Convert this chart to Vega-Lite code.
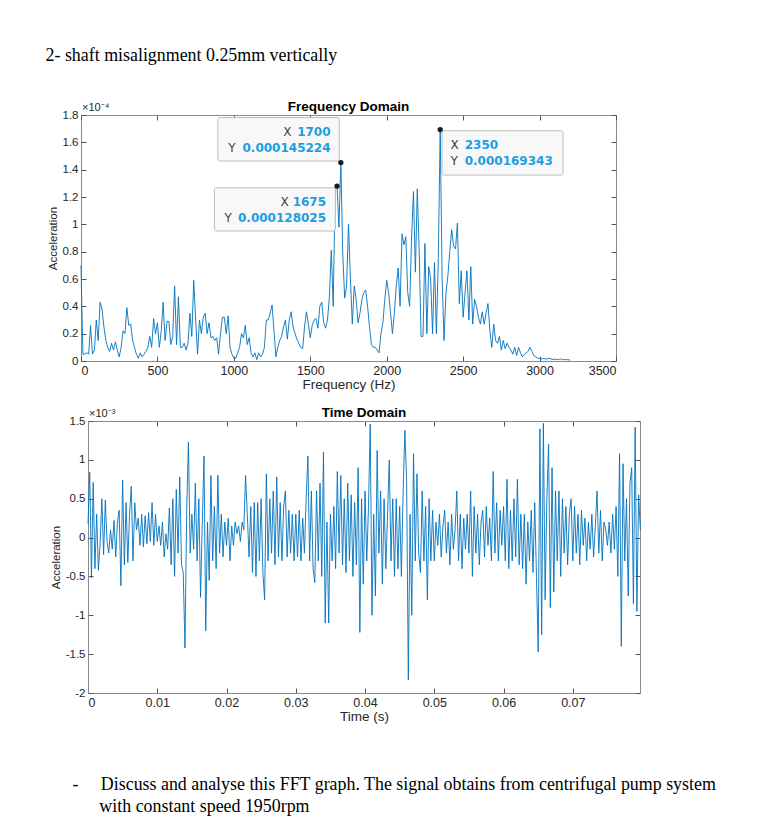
{
"$schema": "https://vega.github.io/schema/vega-lite/v6.json",
"background": "white",
"padding": {"left": 45, "top": 47, "right": 0, "bottom": 0},
"title": {"text": "2- shaft misalignment 0.25mm vertically", "anchor": "start", "font": "Liberation Serif", "fontSize": 17.9, "fontWeight": "normal", "color": "#000000", "offset": 34, "dx": -1, "frame": "bounds"},
"datasets": {
"freq": [
{"f":0,"a":0.7},{"f":12.5,"a":0.05},{"f":25,"a":0.05},{"f":37.5,"a":0.06},{"f":50,"a":0.05},{"f":62.5,"a":0.26},{"f":75,"a":0.05},{"f":87.5,"a":0.08},{"f":100,"a":0.3},{"f":112.5,"a":0.15},
{"f":125,"a":0.43},{"f":137.5,"a":0.38},{"f":150,"a":0.25},{"f":162.5,"a":0.15},{"f":175,"a":0.1},{"f":187.5,"a":0.07},{"f":200,"a":0.13},{"f":212.5,"a":0.08},{"f":225,"a":0.14},{"f":237.5,"a":0.08},
{"f":250,"a":0.03},{"f":262.5,"a":0.1},{"f":275,"a":0.22},{"f":287.5,"a":0.2},{"f":300,"a":0.39},{"f":312.5,"a":0.26},{"f":325,"a":0.27},{"f":337.5,"a":0.15},{"f":350,"a":0.1},{"f":362.5,"a":0.05},
{"f":375,"a":0.02},{"f":387.5,"a":0.06},{"f":400,"a":0.03},{"f":412.5,"a":0.05},{"f":425,"a":0.07},{"f":437.5,"a":0.1},{"f":450,"a":0.18},{"f":462.5,"a":0.1},{"f":475,"a":0.31},{"f":487.5,"a":0.2},
{"f":500,"a":0.28},{"f":512.5,"a":0.1},{"f":525,"a":0.22},{"f":537.5,"a":0.43},{"f":550,"a":0.15},{"f":562.5,"a":0.29},{"f":575,"a":0.29},{"f":587.5,"a":0.12},{"f":600,"a":0.18},{"f":612.5,"a":0.55},
{"f":625,"a":0.12},{"f":637.5,"a":0.47},{"f":650,"a":0.1},{"f":662.5,"a":0.1},{"f":675,"a":0.13},{"f":687.5,"a":0.08},{"f":700,"a":0.13},{"f":712.5,"a":0.35},{"f":725,"a":0.18},{"f":737.5,"a":0.59},
{"f":750,"a":0.3},{"f":762.5,"a":0.05},{"f":775,"a":0.3},{"f":787.5,"a":0.2},{"f":800,"a":0.32},{"f":812.5,"a":0.35},{"f":825,"a":0.2},{"f":837.5,"a":0.28},{"f":850,"a":0.17},{"f":862.5,"a":0.18},
{"f":875,"a":0.15},{"f":887.5,"a":0.17},{"f":900,"a":0.05},{"f":912.5,"a":0.2},{"f":925,"a":0.32},{"f":937.5,"a":0.32},{"f":950,"a":0.2},{"f":962.5,"a":0.33},{"f":975,"a":0.1},{"f":987.5,"a":0.05},
{"f":1000,"a":0.02},{"f":1012.5,"a":0.02},{"f":1025,"a":0.06},{"f":1037.5,"a":0.1},{"f":1050,"a":0.2},{"f":1062.5,"a":0.17},{"f":1075,"a":0.26},{"f":1087.5,"a":0.12},{"f":1100,"a":0.17},{"f":1112.5,"a":0.06},
{"f":1125,"a":0.03},{"f":1137.5,"a":0.06},{"f":1150,"a":0.01},{"f":1162.5,"a":0.06},{"f":1175,"a":0.03},{"f":1187.5,"a":0.05},{"f":1200,"a":0.1},{"f":1212.5,"a":0.3},{"f":1225,"a":0.3},{"f":1237.5,"a":0.35},
{"f":1250,"a":0.41},{"f":1262.5,"a":0.22},{"f":1275,"a":0.03},{"f":1287.5,"a":0.1},{"f":1300,"a":0.15},{"f":1312.5,"a":0.18},{"f":1325,"a":0.25},{"f":1337.5,"a":0.3},{"f":1350,"a":0.16},{"f":1362.5,"a":0.3},
{"f":1375,"a":0.36},{"f":1387.5,"a":0.25},{"f":1400,"a":0.2},{"f":1412.5,"a":0.16},{"f":1425,"a":0.13},{"f":1437.5,"a":0.1},{"f":1450,"a":0.09},{"f":1462.5,"a":0.25},{"f":1475,"a":0.36},{"f":1487.5,"a":0.27},
{"f":1500,"a":0.17},{"f":1512.5,"a":0.26},{"f":1525,"a":0.3},{"f":1537.5,"a":0.31},{"f":1550,"a":0.24},{"f":1562.5,"a":0.4},{"f":1575,"a":0.43},{"f":1587.5,"a":0.28},{"f":1600,"a":0.24},{"f":1612.5,"a":0.3},
{"f":1625,"a":0.47},{"f":1637.5,"a":0.81},{"f":1650,"a":0.4},{"f":1662.5,"a":1.25},{"f":1675,"a":1.28025},{"f":1687.5,"a":0.98},{"f":1700,"a":1.45224},{"f":1712.5,"a":0.78},{"f":1725,"a":0.46},{"f":1737.5,"a":0.55},
{"f":1750,"a":1.0},{"f":1762.5,"a":0.6},{"f":1775,"a":0.27},{"f":1787.5,"a":0.55},{"f":1800,"a":0.45},{"f":1812.5,"a":0.28},{"f":1825,"a":0.35},{"f":1837.5,"a":0.45},{"f":1850,"a":0.5},{"f":1862.5,"a":0.52},
{"f":1875,"a":0.4},{"f":1887.5,"a":0.25},{"f":1900,"a":0.12},{"f":1912.5,"a":0.1},{"f":1925,"a":0.1},{"f":1937.5,"a":0.08},{"f":1950,"a":0.06},{"f":1962.5,"a":0.2},{"f":1975,"a":0.28},{"f":1987.5,"a":0.45},
{"f":2000,"a":0.59},{"f":2012.5,"a":0.5},{"f":2025,"a":0.35},{"f":2037.5,"a":0.2},{"f":2050,"a":0.35},{"f":2062.5,"a":0.55},{"f":2075,"a":0.68},{"f":2087.5,"a":0.4},{"f":2100,"a":0.93},{"f":2112.5,"a":0.85},
{"f":2125,"a":0.91},{"f":2137.5,"a":0.5},{"f":2150,"a":0.4},{"f":2162.5,"a":0.9},{"f":2175,"a":1.24},{"f":2187.5,"a":0.65},{"f":2200,"a":1.26},{"f":2212.5,"a":0.8},{"f":2225,"a":0.18},{"f":2237.5,"a":0.18},
{"f":2250,"a":0.86},{"f":2262.5,"a":0.2},{"f":2275,"a":0.69},{"f":2287.5,"a":0.6},{"f":2300,"a":0.2},{"f":2312.5,"a":0.72},{"f":2325,"a":0.2},{"f":2337.5,"a":0.75},{"f":2350,"a":1.69343},{"f":2362.5,"a":0.6},
{"f":2375,"a":0.15},{"f":2387.5,"a":0.5},{"f":2400,"a":0.62},{"f":2412.5,"a":0.8},{"f":2425,"a":0.96},{"f":2437.5,"a":0.84},{"f":2450,"a":0.82},{"f":2462.5,"a":1.01},{"f":2475,"a":0.42},{"f":2487.5,"a":0.66},
{"f":2500,"a":0.32},{"f":2512.5,"a":0.5},{"f":2525,"a":0.66},{"f":2537.5,"a":0.3},{"f":2550,"a":0.69},{"f":2562.5,"a":0.27},{"f":2575,"a":0.45},{"f":2587.5,"a":0.4},{"f":2600,"a":0.32},{"f":2612.5,"a":0.27},
{"f":2625,"a":0.36},{"f":2637.5,"a":0.27},{"f":2650,"a":0.35},{"f":2662.5,"a":0.42},{"f":2675,"a":0.22},{"f":2687.5,"a":0.1},{"f":2700,"a":0.27},{"f":2712.5,"a":0.15},{"f":2725,"a":0.13},{"f":2737.5,"a":0.18},
{"f":2750,"a":0.08},{"f":2762.5,"a":0.15},{"f":2775,"a":0.09},{"f":2787.5,"a":0.13},{"f":2800,"a":0.1},{"f":2812.5,"a":0.08},{"f":2825,"a":0.05},{"f":2837.5,"a":0.1},{"f":2850,"a":0.04},{"f":2862.5,"a":0.1},
{"f":2875,"a":0.06},{"f":2887.5,"a":0.03},{"f":2900,"a":0.05},{"f":2912.5,"a":0.06},{"f":2925,"a":0.07},{"f":2937.5,"a":0.1},{"f":2950,"a":0.07},{"f":2962.5,"a":0.04},{"f":2975,"a":0.03},{"f":2987.5,"a":0.02},
{"f":3000,"a":0.02},{"f":3012.5,"a":0.015},{"f":3025,"a":0.02},{"f":3037.5,"a":0.015},{"f":3050,"a":0.015},{"f":3062.5,"a":0.02},{"f":3075,"a":0.015},{"f":3087.5,"a":0.01},{"f":3100,"a":0.015},{"f":3112.5,"a":0.01},
{"f":3125,"a":0.01},{"f":3137.5,"a":0.015},{"f":3150,"a":0.01},{"f":3162.5,"a":0.01},{"f":3175,"a":0.01},{"f":3187.5,"a":0.01},{"f":3200,"a":0.005}
],
"tips": [
{"tip":"a","f":1700,"a":1.45224,"xs":"1700","ys":"0.000145224"},
{"tip":"b","f":1675,"a":1.28025,"xs":"1675","ys":"0.000128025"},
{"tip":"c","f":2350,"a":1.69343,"xs":"2350","ys":"0.000169343"}
],
"time": [
{"t":0,"v":0.18},{"t":0.00025,"v":0.84},{"t":0.0005,"v":-0.52},{"t":0.00075,"v":0.71},{"t":0.001,"v":-0.4},{"t":0.00125,"v":0.3},{"t":0.0015,"v":-0.42},{"t":0.00175,"v":-0.08},{"t":0.002,"v":0.5},{"t":0.00225,"v":-0.22},
{"t":0.0025,"v":0.48},{"t":0.00275,"v":-0.05},{"t":0.003,"v":-0.2},{"t":0.00325,"v":0.1},{"t":0.0035,"v":-0.15},{"t":0.00375,"v":0.22},{"t":0.004,"v":-0.25},{"t":0.00425,"v":0.2},{"t":0.0045,"v":0.35},{"t":0.00475,"v":-0.62},
{"t":0.005,"v":0.74},{"t":0.00525,"v":-0.35},{"t":0.0055,"v":0.45},{"t":0.00575,"v":-0.32},{"t":0.006,"v":0.3},{"t":0.00625,"v":0.66},{"t":0.0065,"v":-0.3},{"t":0.00675,"v":0.45},{"t":0.007,"v":0.1},{"t":0.00725,"v":0.25},
{"t":0.0075,"v":-0.1},{"t":0.00775,"v":0.3},{"t":0.008,"v":-0.12},{"t":0.00825,"v":0.28},{"t":0.0085,"v":-0.08},{"t":0.00875,"v":0.32},{"t":0.009,"v":-0.05},{"t":0.00925,"v":0.45},{"t":0.0095,"v":-0.1},{"t":0.00975,"v":0.3},
{"t":0.01,"v":-0.05},{"t":0.01025,"v":0.15},{"t":0.0105,"v":-0.1},{"t":0.01075,"v":0.2},{"t":0.011,"v":-0.25},{"t":0.01125,"v":0.05},{"t":0.0115,"v":-0.15},{"t":0.01175,"v":0.38},{"t":0.012,"v":-0.35},{"t":0.01225,"v":0.5},
{"t":0.0125,"v":-0.5},{"t":0.01275,"v":0.62},{"t":0.013,"v":-0.2},{"t":0.01325,"v":0.78},{"t":0.0135,"v":-0.35},{"t":0.01375,"v":-0.45},{"t":0.014,"v":-1.42},{"t":0.01425,"v":0.35},{"t":0.0145,"v":1.23},{"t":0.01475,"v":-0.2},
{"t":0.015,"v":0.3},{"t":0.01525,"v":-0.15},{"t":0.0155,"v":0.7},{"t":0.01575,"v":-0.3},{"t":0.016,"v":0.5},{"t":0.01625,"v":-0.77},{"t":0.0165,"v":0.2},{"t":0.01675,"v":1.05},{"t":0.017,"v":-1.2},{"t":0.01725,"v":0.2},
{"t":0.0175,"v":-0.55},{"t":0.01775,"v":0.8},{"t":0.018,"v":-0.3},{"t":0.01825,"v":0.4},{"t":0.0185,"v":-0.4},{"t":0.01875,"v":0.8},{"t":0.019,"v":-0.2},{"t":0.01925,"v":0.3},{"t":0.0195,"v":-0.25},{"t":0.01975,"v":0.2},
{"t":0.02,"v":-0.1},{"t":0.02025,"v":0.25},{"t":0.0205,"v":-0.3},{"t":0.02075,"v":0.15},{"t":0.021,"v":-0.1},{"t":0.02125,"v":0.2},{"t":0.0215,"v":0.05},{"t":0.02175,"v":0.15},{"t":0.022,"v":-0.05},{"t":0.02225,"v":0.2},
{"t":0.0225,"v":0.1},{"t":0.02275,"v":0.8},{"t":0.023,"v":0.3},{"t":0.02325,"v":-0.25},{"t":0.0235,"v":0.4},{"t":0.02375,"v":-0.45},{"t":0.024,"v":0.45},{"t":0.02425,"v":-0.5},{"t":0.0245,"v":0.45},{"t":0.02475,"v":-0.3},
{"t":0.025,"v":0.5},{"t":0.02525,"v":-0.45},{"t":0.0255,"v":-0.8},{"t":0.02575,"v":0.82},{"t":0.026,"v":-0.3},{"t":0.02625,"v":0.5},{"t":0.0265,"v":-0.2},{"t":0.02675,"v":0.6},{"t":0.027,"v":-0.35},{"t":0.02725,"v":0.78},
{"t":0.0275,"v":-0.25},{"t":0.02775,"v":0.45},{"t":0.028,"v":-0.3},{"t":0.02825,"v":0.4},{"t":0.0285,"v":0.6},{"t":0.02875,"v":-0.25},{"t":0.029,"v":0.35},{"t":0.02925,"v":-0.2},{"t":0.0295,"v":0.3},{"t":0.02975,"v":-0.3},
{"t":0.03,"v":0.3},{"t":0.03025,"v":-0.25},{"t":0.0305,"v":0.35},{"t":0.03075,"v":-0.3},{"t":0.031,"v":0.25},{"t":0.03125,"v":-0.2},{"t":0.0315,"v":0.5},{"t":0.03175,"v":1.05},{"t":0.032,"v":-0.3},{"t":0.03225,"v":0.6},
{"t":0.0325,"v":-0.4},{"t":0.03275,"v":-0.58},{"t":0.033,"v":0.6},{"t":0.03325,"v":-0.3},{"t":0.0335,"v":0.7},{"t":0.03375,"v":-0.5},{"t":0.034,"v":1.1},{"t":0.03425,"v":-1.1},{"t":0.0345,"v":0.2},{"t":0.03475,"v":-1.1},
{"t":0.035,"v":0.3},{"t":0.03525,"v":-0.3},{"t":0.0355,"v":0.4},{"t":0.03575,"v":-0.4},{"t":0.036,"v":0.85},{"t":0.03625,"v":-0.2},{"t":0.0365,"v":0.8},{"t":0.03675,"v":-0.35},{"t":0.037,"v":0.5},{"t":0.03725,"v":-0.45},
{"t":0.0375,"v":0.7},{"t":0.03775,"v":-0.3},{"t":0.038,"v":0.55},{"t":0.03825,"v":-0.5},{"t":0.0385,"v":0.45},{"t":0.03875,"v":-0.35},{"t":0.039,"v":0.9},{"t":0.03925,"v":-1.22},{"t":0.0395,"v":0.5},{"t":0.03975,"v":-0.6},
{"t":0.04,"v":0.6},{"t":0.04025,"v":-0.3},{"t":0.0405,"v":0.4},{"t":0.04075,"v":1.46},{"t":0.041,"v":-1.0},{"t":0.04125,"v":0.3},{"t":0.0415,"v":-0.75},{"t":0.04175,"v":1.12},{"t":0.042,"v":-0.2},{"t":0.04225,"v":0.6},
{"t":0.0425,"v":-0.6},{"t":0.04275,"v":0.5},{"t":0.043,"v":-0.4},{"t":0.04325,"v":0.3},{"t":0.0435,"v":1.0},{"t":0.04375,"v":-0.3},{"t":0.044,"v":0.5},{"t":0.04425,"v":-0.5},{"t":0.0445,"v":0.5},{"t":0.04475,"v":-0.4},
{"t":0.045,"v":0.4},{"t":0.04525,"v":-0.5},{"t":0.0455,"v":0.6},{"t":0.04575,"v":1.38},{"t":0.046,"v":0.75},{"t":0.04625,"v":-1.83},{"t":0.0465,"v":0.3},{"t":0.04675,"v":-1.0},{"t":0.047,"v":1.08},{"t":0.04725,"v":-0.3},
{"t":0.0475,"v":0.82},{"t":0.04775,"v":-0.2},{"t":0.048,"v":-0.45},{"t":0.04825,"v":0.6},{"t":0.0485,"v":-0.3},{"t":0.04875,"v":0.4},{"t":0.049,"v":-0.8},{"t":0.04925,"v":0.5},{"t":0.0495,"v":-0.3},{"t":0.04975,"v":0.35},
{"t":0.05,"v":-0.3},{"t":0.05025,"v":0.2},{"t":0.0505,"v":-0.1},{"t":0.05075,"v":0.3},{"t":0.051,"v":-0.25},{"t":0.05125,"v":0.15},{"t":0.0515,"v":0.35},{"t":0.05175,"v":-0.2},{"t":0.052,"v":0.2},{"t":0.05225,"v":-0.35},
{"t":0.0525,"v":0.3},{"t":0.05275,"v":-0.15},{"t":0.053,"v":0.1},{"t":0.05325,"v":0.6},{"t":0.0535,"v":-0.3},{"t":0.05375,"v":0.3},{"t":0.054,"v":-0.4},{"t":0.05425,"v":0.25},{"t":0.0545,"v":-0.15},{"t":0.05475,"v":0.3},
{"t":0.055,"v":-0.2},{"t":0.05525,"v":0.6},{"t":0.0555,"v":-0.5},{"t":0.05575,"v":0.4},{"t":0.056,"v":-0.2},{"t":0.05625,"v":0.3},{"t":0.0565,"v":-0.35},{"t":0.05675,"v":0.2},{"t":0.057,"v":0.35},{"t":0.05725,"v":-0.25},
{"t":0.0575,"v":0.4},{"t":0.05775,"v":-0.1},{"t":0.058,"v":0.25},{"t":0.05825,"v":-0.3},{"t":0.0585,"v":0.85},{"t":0.05875,"v":-0.2},{"t":0.059,"v":0.45},{"t":0.05925,"v":-0.3},{"t":0.0595,"v":0.35},{"t":0.05975,"v":-0.1},
{"t":0.06,"v":0.4},{"t":0.06025,"v":-0.3},{"t":0.0605,"v":0.75},{"t":0.06075,"v":-0.4},{"t":0.061,"v":0.35},{"t":0.06125,"v":-0.3},{"t":0.0615,"v":0.5},{"t":0.06175,"v":-0.25},{"t":0.062,"v":0.75},{"t":0.06225,"v":-0.35},
{"t":0.0625,"v":0.3},{"t":0.06275,"v":-0.4},{"t":0.063,"v":0.3},{"t":0.06325,"v":-0.6},{"t":0.0635,"v":0.2},{"t":0.06375,"v":-0.3},{"t":0.064,"v":0.35},{"t":0.06425,"v":-0.45},{"t":0.0645,"v":0.45},{"t":0.06475,"v":-0.5},
{"t":0.065,"v":-1.47},{"t":0.06525,"v":1.4},{"t":0.0655,"v":-1.25},{"t":0.06575,"v":1.47},{"t":0.066,"v":-0.8},{"t":0.06625,"v":0.5},{"t":0.0665,"v":1.2},{"t":0.06675,"v":-0.9},{"t":0.067,"v":0.9},{"t":0.06725,"v":-0.7},
{"t":0.0675,"v":0.6},{"t":0.06775,"v":-0.3},{"t":0.068,"v":0.6},{"t":0.06825,"v":-0.5},{"t":0.0685,"v":0.5},{"t":0.06875,"v":-0.2},{"t":0.069,"v":0.4},{"t":0.06925,"v":-0.35},{"t":0.0695,"v":0.3},{"t":0.06975,"v":0.5},
{"t":0.07,"v":-0.3},{"t":0.07025,"v":0.4},{"t":0.0705,"v":-0.2},{"t":0.07075,"v":0.3},{"t":0.071,"v":-0.35},{"t":0.07125,"v":0.35},{"t":0.0715,"v":-0.1},{"t":0.07175,"v":0.25},{"t":0.072,"v":-0.3},{"t":0.07225,"v":0.2},
{"t":0.0725,"v":-0.15},{"t":0.07275,"v":0.3},{"t":0.073,"v":-0.25},{"t":0.07325,"v":0.15},{"t":0.0735,"v":0.6},{"t":0.07375,"v":-0.2},{"t":0.074,"v":0.35},{"t":0.07425,"v":-0.3},{"t":0.0745,"v":0.2},{"t":0.07475,"v":0.1},
{"t":0.075,"v":-0.1},{"t":0.07525,"v":0.2},{"t":0.0755,"v":-0.2},{"t":0.07575,"v":0.3},{"t":0.076,"v":-0.15},{"t":0.07625,"v":0.4},{"t":0.0765,"v":-0.5},{"t":0.07675,"v":1.08},{"t":0.077,"v":-1.4},{"t":0.07725,"v":0.95},
{"t":0.0775,"v":-0.3},{"t":0.07775,"v":0.5},{"t":0.078,"v":-0.75},{"t":0.07825,"v":0.7},{"t":0.0785,"v":0.9},{"t":0.07875,"v":-0.85},{"t":0.079,"v":1.42},{"t":0.07925,"v":-0.95},{"t":0.0795,"v":0.55},{"t":0.07975,"v":0.1}
]
},
"concat": [
{
"title": {"text": ["-\u00a0\u00a0\u00a0\u00a0\u00a0Discuss and analyse this FFT graph. The signal obtains from centrifugal pump system", "\u200b\u00a0\u00a0\u00a0\u00a0\u00a0\u00a0with constant speed 1950rpm"], "orient": "bottom", "anchor": "start", "font": "Liberation Serif", "fontSize": 17.9, "fontWeight": "normal", "color": "#000000", "lineHeight": 22, "offset": 53, "dx": 26, "frame": "bounds"},
"columns": 1,
"align": "none",
"spacing": 13,
"concat": [
{
"width": 535,
"height": 246,
"title": {"text": "Frequency Domain"},
"layer": [
{"data": {"name": "freq"}, "mark": {"type": "line", "color": "#0072BD", "strokeWidth": 0.9},
 "encoding": {
  "x": {"field": "f", "type": "quantitative", "scale": {"domain": [0, 3500], "nice": false, "zero": false}, "axis": {"values": [0,500,1000,1500,2000,2500,3000,3500], "title": "Frequency (Hz)", "labelExpr": "toString(datum.value)"}},
  "y": {"field": "a", "type": "quantitative", "scale": {"domain": [0, 1.8], "nice": false}, "axis": {"values": [0,0.2,0.4,0.6,0.8,1,1.2,1.4,1.6,1.8], "title": "Acceleration", "labelExpr": "toString(datum.value)", "titlePadding": 4}}
 }},
{"data": {"values": [{"label": "×10⁻⁴"}]}, "mark": {"type": "text", "align": "left", "baseline": "alphabetic", "dx": 1, "dy": -4, "font": "Liberation Sans", "fontSize": 11, "color": "#262626"},
 "encoding": {
  "x": {"datum": 0, "type": "quantitative", "axis": {"orient": "top", "labels": false, "title": null, "values": [0,500,1000,1500,2000,2500,3000,3500]}},
  "y": {"datum": 1.8, "type": "quantitative", "axis": {"orient": "right", "labels": false, "title": null, "values": [0,0.2,0.4,0.6,0.8,1,1.2,1.4,1.6,1.8]}},
  "text": {"field": "label"}
 }},
{"data": {"name": "tips"}, "transform": [{"filter": "datum.tip == 'a'"}], "mark": {"type": "rect", "fill": "#f7f7f9", "fillOpacity": 0.92, "stroke": "#bdbdbd", "strokeWidth": 1, "cornerRadius": 2, "xOffset": -123, "x2Offset": -1.5, "yOffset": -45, "y2Offset": -1.5},
 "encoding": {"x": {"field": "f", "type": "quantitative", "axis": null}, "x2": {"field": "f"}, "y": {"field": "a", "type": "quantitative", "axis": null}, "y2": {"field": "a"}}},
{"data": {"name": "tips"}, "transform": [{"filter": "datum.tip == 'b'"}], "mark": {"type": "rect", "fill": "#f7f7f9", "fillOpacity": 0.92, "stroke": "#bdbdbd", "strokeWidth": 1, "cornerRadius": 2, "xOffset": -122.6, "x2Offset": -1.6, "yOffset": 1.8, "y2Offset": 45},
 "encoding": {"x": {"field": "f", "type": "quantitative", "axis": null}, "x2": {"field": "f"}, "y": {"field": "a", "type": "quantitative", "axis": null}, "y2": {"field": "a"}}},
{"data": {"name": "tips"}, "transform": [{"filter": "datum.tip == 'c'"}], "mark": {"type": "rect", "fill": "#f7f7f9", "fillOpacity": 0.92, "stroke": "#bdbdbd", "strokeWidth": 1, "cornerRadius": 2, "xOffset": 1.8, "x2Offset": 122.8, "yOffset": 1.2, "y2Offset": 45.5},
 "encoding": {"x": {"field": "f", "type": "quantitative", "axis": null}, "x2": {"field": "f"}, "y": {"field": "a", "type": "quantitative", "axis": null}, "y2": {"field": "a"}}},
{"data": {"name": "tips"}, "mark": {"type": "point", "filled": true, "color": "#1a1a1a", "opacity": 1, "size": 28},
 "encoding": {"x": {"field": "f", "type": "quantitative", "axis": null}, "y": {"field": "a", "type": "quantitative", "axis": null}}},
{"data": {"name": "tips"}, "transform": [{"filter": "datum.tip == 'a'"}], "mark": {"type": "text", "align": "right", "baseline": "middle", "dx": -10.3, "dy": -30.8, "font": "DejaVu Sans", "fontSize": 12, "fontWeight": "bold", "color": "#1f9de0"},
 "encoding": {"x": {"field": "f", "type": "quantitative", "axis": null}, "y": {"field": "a", "type": "quantitative", "axis": null}, "text": {"field": "xs"}}},
{"data": {"name": "tips"}, "transform": [{"filter": "datum.tip == 'a'"}], "mark": {"type": "text", "align": "right", "baseline": "middle", "dx": -10.3, "dy": -14.8, "font": "DejaVu Sans", "fontSize": 12, "fontWeight": "bold", "color": "#1f9de0"},
 "encoding": {"x": {"field": "f", "type": "quantitative", "axis": null}, "y": {"field": "a", "type": "quantitative", "axis": null}, "text": {"field": "ys"}}},
{"data": {"name": "tips"}, "transform": [{"filter": "datum.tip == 'a'"}], "mark": {"type": "text", "align": "right", "baseline": "middle", "dx": -49.3, "dy": -30.8, "font": "DejaVu Sans", "fontSize": 12, "color": "#404040", "text": "X"},
 "encoding": {"x": {"field": "f", "type": "quantitative", "axis": null}, "y": {"field": "a", "type": "quantitative", "axis": null}}},
{"data": {"name": "tips"}, "transform": [{"filter": "datum.tip == 'a'"}], "mark": {"type": "text", "align": "right", "baseline": "middle", "dx": -105.3, "dy": -14.8, "font": "DejaVu Sans", "fontSize": 12, "color": "#404040", "text": "Y"},
 "encoding": {"x": {"field": "f", "type": "quantitative", "axis": null}, "y": {"field": "a", "type": "quantitative", "axis": null}}},
{"data": {"name": "tips"}, "transform": [{"filter": "datum.tip == 'b'"}], "mark": {"type": "text", "align": "right", "baseline": "middle", "dx": -11, "dy": 16.4, "font": "DejaVu Sans", "fontSize": 12, "fontWeight": "bold", "color": "#1f9de0"},
 "encoding": {"x": {"field": "f", "type": "quantitative", "axis": null}, "y": {"field": "a", "type": "quantitative", "axis": null}, "text": {"field": "xs"}}},
{"data": {"name": "tips"}, "transform": [{"filter": "datum.tip == 'b'"}], "mark": {"type": "text", "align": "right", "baseline": "middle", "dx": -11, "dy": 31.8, "font": "DejaVu Sans", "fontSize": 12, "fontWeight": "bold", "color": "#1f9de0"},
 "encoding": {"x": {"field": "f", "type": "quantitative", "axis": null}, "y": {"field": "a", "type": "quantitative", "axis": null}, "text": {"field": "ys"}}},
{"data": {"name": "tips"}, "transform": [{"filter": "datum.tip == 'b'"}], "mark": {"type": "text", "align": "right", "baseline": "middle", "dx": -48.3, "dy": 16.4, "font": "DejaVu Sans", "fontSize": 12, "color": "#404040", "text": "X"},
 "encoding": {"x": {"field": "f", "type": "quantitative", "axis": null}, "y": {"field": "a", "type": "quantitative", "axis": null}}},
{"data": {"name": "tips"}, "transform": [{"filter": "datum.tip == 'b'"}], "mark": {"type": "text", "align": "right", "baseline": "middle", "dx": -105.3, "dy": 31.8, "font": "DejaVu Sans", "fontSize": 12, "color": "#404040", "text": "Y"},
 "encoding": {"x": {"field": "f", "type": "quantitative", "axis": null}, "y": {"field": "a", "type": "quantitative", "axis": null}}},
{"data": {"name": "tips"}, "transform": [{"filter": "datum.tip == 'c'"}], "mark": {"type": "text", "align": "left", "baseline": "middle", "dx": 24.5, "dy": 15.5, "font": "DejaVu Sans", "fontSize": 12, "fontWeight": "bold", "color": "#1f9de0"},
 "encoding": {"x": {"field": "f", "type": "quantitative", "axis": null}, "y": {"field": "a", "type": "quantitative", "axis": null}, "text": {"field": "xs"}}},
{"data": {"name": "tips"}, "transform": [{"filter": "datum.tip == 'c'"}], "mark": {"type": "text", "align": "left", "baseline": "middle", "dx": 24.5, "dy": 31.5, "font": "DejaVu Sans", "fontSize": 12, "fontWeight": "bold", "color": "#1f9de0"},
 "encoding": {"x": {"field": "f", "type": "quantitative", "axis": null}, "y": {"field": "a", "type": "quantitative", "axis": null}, "text": {"field": "ys"}}},
{"data": {"name": "tips"}, "transform": [{"filter": "datum.tip == 'c'"}], "mark": {"type": "text", "align": "left", "baseline": "middle", "dx": 10.2, "dy": 15.5, "font": "DejaVu Sans", "fontSize": 12, "color": "#404040", "text": "X"},
 "encoding": {"x": {"field": "f", "type": "quantitative", "axis": null}, "y": {"field": "a", "type": "quantitative", "axis": null}}},
{"data": {"name": "tips"}, "transform": [{"filter": "datum.tip == 'c'"}], "mark": {"type": "text", "align": "left", "baseline": "middle", "dx": 10.2, "dy": 31.5, "font": "DejaVu Sans", "fontSize": 12, "color": "#404040", "text": "Y"},
 "encoding": {"x": {"field": "f", "type": "quantitative", "axis": null}, "y": {"field": "a", "type": "quantitative", "axis": null}}}
],
"resolve": {"axis": {"x": "independent", "y": "independent"}}
},
{
"width": 559,
"height": 272,
"view": {"stroke": null},
"title": {"text": "Time Domain", "dx": 3.5},
"layer": [
{"data": {"name": "time"}, "mark": {"type": "line", "color": "#0072BD", "strokeWidth": 0.9},
 "encoding": {
  "x": {"field": "t", "type": "quantitative", "scale": {"domain": [0, 0.0797], "range": [7, 559], "nice": false, "zero": false}, "axis": {"values": [0,0.01,0.02,0.03,0.04,0.05,0.06,0.07], "title": "Time (s)", "labelExpr": "toString(datum.value)", "domain": true, "domainColor": "#8a8a8a", "domainWidth": 1}},
  "y": {"field": "v", "type": "quantitative", "scale": {"domain": [-2, 1.5], "nice": false, "zero": false}, "axis": {"values": [-2,-1.5,-1,-0.5,0,0.5,1,1.5], "title": "Acceleration", "labelExpr": "toString(datum.value)", "titlePadding": 4, "offset": -7, "domain": true, "domainColor": "#8a8a8a", "domainWidth": 1}}
 }},
{"data": {"values": [{"label": "×10⁻³"}]}, "mark": {"type": "text", "align": "left", "baseline": "alphabetic", "dx": 1, "dy": -4, "font": "Liberation Sans", "fontSize": 11, "color": "#262626"},
 "encoding": {
  "x": {"datum": 0, "type": "quantitative", "axis": {"orient": "top", "labels": false, "title": null, "values": [0,0.01,0.02,0.03,0.04,0.05,0.06,0.07], "domain": true, "domainColor": "#8a8a8a", "domainWidth": 1}},
  "y": {"datum": 1.5, "type": "quantitative", "axis": {"orient": "right", "labels": false, "title": null, "values": [-2,-1.5,-1,-0.5,0,0.5,1,1.5], "domain": true, "domainColor": "#8a8a8a", "domainWidth": 1}},
  "text": {"field": "label"}
 }}
],
"resolve": {"axis": {"x": "independent", "y": "independent"}}
}
]
}
],
"config": {
 "view": {"stroke": "#8a8a8a", "strokeWidth": 1},
 "axis": {"labelFont": "Liberation Sans", "labelColor": "#262626", "titleFont": "Liberation Sans", "titleFontWeight": "normal", "titleColor": "#262626", "tickColor": "#555555", "tickSize": -5, "labelPadding": 8, "domain": false, "grid": false},
 "axisX": {"labelFontSize": 12.5, "titleFontSize": 13.5, "titlePadding": 1},
 "axisY": {"labelFontSize": 11.5, "titleFontSize": 11.5},
 "title": {"font": "Liberation Sans", "fontSize": 13.5, "fontWeight": "bold", "color": "#000000", "offset": -11}
}
}
